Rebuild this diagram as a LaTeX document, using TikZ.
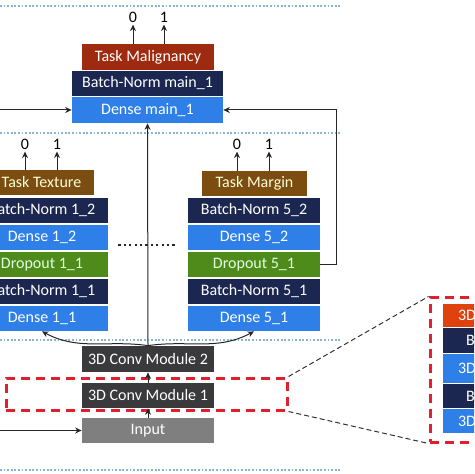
\documentclass[tikz,border=0pt]{standalone}
\usepackage{fontspec}
\setmainfont{Carlito}
\usetikzlibrary{arrows.meta}
\definecolor{navy}{HTML}{1B2751}
\definecolor{bblue}{HTML}{2E7FE8}
\definecolor{dred}{HTML}{9E2A10}
\definecolor{tbrown}{HTML}{7B4D10}
\definecolor{grn}{HTML}{4F8B1B}
\definecolor{dgray}{HTML}{3A3A3C}
\definecolor{mgray}{HTML}{7F7F7F}
\definecolor{ored}{HTML}{E0420F}
\definecolor{rdash}{HTML}{E0202D}
\definecolor{dotc}{HTML}{8DB4CF}
\begin{document}
\begin{tikzpicture}[x=0.5pt,y=-0.5pt,
 every node/.style={font=\fontsize{8}{9.6}\selectfont},
 blk/.style={inner sep=0pt, text=white, minimum height=12.5pt},
 wide/.style={blk, minimum width=75.5pt},
 col/.style={blk, minimum width=66pt},
 task/.style={blk, minimum width=52.5pt, text=white!85!yellow},
 lbl/.style={inner sep=1pt, text=black},
 arr/.style={-{Stealth[length=3.2pt,width=3pt]}, line width=0.5pt, draw=black!85},
 sep/.style={draw=dotc, line width=0.9pt, dash pattern=on 0.9pt off 0.9pt},
 reddash/.style={draw=rdash, line width=1.5pt, dash pattern=on 4.5pt off 3pt, inner sep=0pt},
 blkdash/.style={draw=black!80, line width=0.5pt, dash pattern=on 2.5pt off 1.5pt},
 blkdots/.style={draw=black!85, line width=1.1pt, dash pattern=on 1.1pt off 1.6pt},
 rrow/.style={inner sep=0pt, text=white, align=left, anchor=center},
]
\useasboundingbox (0,0) rectangle (474,474);
\clip (0,0) rectangle (474,474);

% separators
\draw[sep] (0,6) -- (340,6);
\draw[sep] (0,133) -- (340,133);
\draw[sep] (0,340) -- (340,340);
\draw[sep] (0,470) -- (340,470);

% top block
\node[task, fill=dred, minimum width=66pt, minimum height=13pt, text=white] (tm) at (148,57) {Task Malignancy};
\node[wide, fill=navy] (bnm) at (147.5,83.5) {Batch-Norm main\_1};
\node[wide, fill=bblue, minimum height=13pt] (dm) at (147.5,110) {Dense main\_1};
\node[lbl] (om0) at (133,17) {0};
\node[lbl] (om1) at (164,17) {1};
\draw[arr] (tm.north -| om0) -- (om0.south);
\draw[arr] (tm.north -| om1) -- (om1.south);

% left column
\node[task, fill=tbrown] (tt) at (41.5,182.5) {Task Texture};
\node[col, fill=navy] (bn12) at (42,210.5) {Batch-Norm 1\_2};
\node[col, fill=bblue] (d12) at (42,237.5) {Dense 1\_2};
\node[col, fill=grn, text=white!88!green] (do11) at (42,264.5) {Dropout 1\_1};
\node[col, fill=navy] (bn11) at (42,291.5) {Batch-Norm 1\_1};
\node[col, fill=bblue] (d11) at (42,318.5) {Dense 1\_1};
\node[lbl] (ot0) at (25,144) {0};
\node[lbl] (ot1) at (57,144) {1};
\draw[arr] (tt.north -| ot0) -- (ot0.south);
\draw[arr] (tt.north -| ot1) -- (ot1.south);

% right column
\node[task, fill=tbrown] (tmg) at (254.5,183.5) {Task Margin};
\node[col, fill=navy] (bn52) at (254,210.5) {Batch-Norm 5\_2};
\node[col, fill=bblue] (d52) at (254,237.5) {Dense 5\_2};
\node[col, fill=grn, text=white!88!green] (do51) at (254,264.5) {Dropout 5\_1};
\node[col, fill=navy] (bn51) at (254,291.5) {Batch-Norm 5\_1};
\node[col, fill=bblue] (d51) at (254,318.5) {Dense 5\_1};
\node[lbl] (og0) at (237,144) {0};
\node[lbl] (og1) at (269,144) {1};
\draw[arr] (tmg.north -| og0) -- (og0.south);
\draw[arr] (tmg.north -| og1) -- (og1.south);

\draw[blkdots] ([xshift=5pt,yshift=-3.75pt]d12.east) -- ([xshift=-5pt,yshift=-3.75pt]d52.west);

% skip connections to dense main
\draw[arr] (do51.east) -- ++(16,0) |- (dm.east);
\draw[arr] (do11.west) -- ++(-30,0) |- (dm.west);

% bottom block
\node[reddash, minimum width=140.5pt, minimum height=16pt] (zs) at (146.5,394) {};
\node[col, fill=dgray, minimum height=13pt] (c2) at (148,359) {3D Conv Module 2};
\node[col, fill=dgray] (c1) at (148,395.5) {3D Conv Module 1};
\node[col, fill=mgray] (inp) at (148,430.5) {Input};
\coordinate (inL) at (-10,430.5);
\draw[arr] (inL) -- (inp.west);
\draw[arr] (inp) -- (c1);
\draw[arr] (c1) -- (c2);
\draw[arr] (c2.north) -- (dm.south);
\draw[arr] (c2.north) to[out=172,in=-28] (d11.south);
\draw[arr] (c2.north) to[out=8,in=208] (d51.south);

% zoomed module
\node[reddash, minimum width=60pt, minimum height=72pt] (zb) at (490,370) {};
\draw[blkdash] (zs.north east) -- (zb.north west);
\draw[blkdash] (zs.south east) -- (zb.south west);
\node[rrow, fill=ored, text width=51pt, inner xsep=7.5pt, minimum height=11.5pt] (r1) at (509,315.5) {3D};
\node[rrow, fill=navy, text width=43pt, inner xsep=11.5pt, minimum height=12.5pt] (r2) at (509,340.5) {B};
\node[rrow, fill=bblue, text width=51pt, inner xsep=7.5pt, minimum height=14.5pt] (r3) at (509,368.5) {3D};
\node[rrow, fill=navy, text width=43pt, inner xsep=11.5pt, minimum height=12pt] (r4) at (509,396) {B};
\node[rrow, fill=bblue, text width=51pt, inner xsep=7.5pt, minimum height=12pt] (r5) at (509,421) {3D};
\end{tikzpicture}
\end{document}
